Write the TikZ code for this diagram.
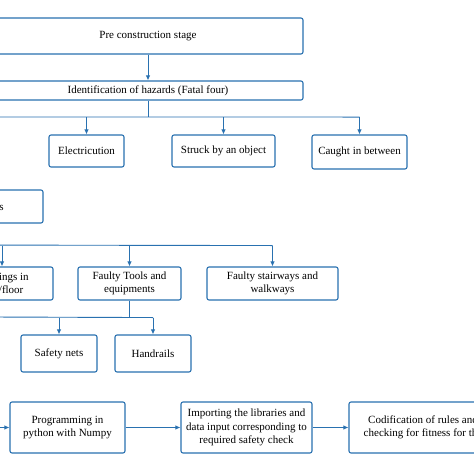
\documentclass[tikz,border=0pt]{standalone}
\usepackage{fontspec}
\setmainfont{Liberation Serif}
\usetikzlibrary{arrows.meta}
\definecolor{bl}{RGB}{41,113,176}
\tikzset{
  box/.style={draw=bl, line width=1.1pt, rounded corners=2pt, align=center, inner sep=0pt,
    font=\fontsize{11}{13.5}\selectfont, text=black},
  conn/.style={draw=bl, line width=0.9pt},
  arr/.style={conn, -{Latex[length=5pt,width=4.5pt]}}
}
\begin{document}
\begin{tikzpicture}[x=1pt,y=1pt]
\useasboundingbox (0,0) rectangle (474,-474);
\fill[white] (0,0) rectangle (474,-474);
\clip (0,0) rectangle (474,-474);
% top chain
\node[box, minimum width=310, minimum height=36] (A) at (148,-36) {Pre construction stage};
\node[box, minimum width=310, minimum height=19] (B) at (148,-90.5) {Identification of hazards (Fatal four)};
\node[box, minimum width=75, minimum height=32] (E1) at (86.5,-151) {Electricution};
\node[box, minimum width=103, minimum height=32] (E2) at (223.5,-151) {Struck by an object};
\node[box, minimum width=95, minimum height=34] (E3) at (359.5,-152) {Caught in between};
% middle
\node[box, minimum width=100, minimum height=33] (C) at (-7,-206.5) {Falls};
\node[box, minimum width=102, minimum height=33] (O) at (2,-283.5) {Openings in\\roof/floor};
\node[box, minimum width=103, minimum height=33] (FT) at (129.5,-283.5) {Faulty Tools and\\equipments};
\node[box, minimum width=131, minimum height=33] (FS) at (272.5,-283.5) {Faulty stairways and\\walkways};
\node[box, minimum width=76, minimum height=37] (SN) at (59,-353.5) {Safety nets};
\node[box, minimum width=76, minimum height=37] (HR) at (153,-353.5) {Handrails};
% bottom row
\node[box, minimum width=115, minimum height=51] (P) at (67.5,-427.5) {Programming in\\python with Numpy};
\node[box, minimum width=131, minimum height=51] (I) at (246.5,-427.5) {Importing the libraries and\\data input corresponding to\\required safety check};
\node[box, minimum width=148, minimum height=51] (K) at (423,-427.5) {Codification of rules and\\checking for fitness for the};
% free ends
\coordinate (f1) at (-10,-117);
\coordinate (f2) at (-60,-245);
\coordinate (f3) at (-10,-317);
\coordinate (f4) at (-10,-427.5);
% connectors
\draw[arr] (A.south) -- (B.north);
\draw[conn] (B.south) -- ++(0,-16.5) coordinate (j1);
\draw[conn] (f1) -- (j1 -| E3.north);
\draw[arr] (j1 -| E1.north) -- (E1.north);
\draw[arr] (j1 -| E2.north) -- (E2.north);
\draw[arr] (j1 -| E3.north) -- (E3.north);
\draw[conn] (C.south) -- ++(0,-22) coordinate (j2);
\draw[conn] (f2) -- (j2 -| FS.north);
\draw[arr] (j2 -| O.north) -- (O.north);
\draw[arr] (j2 -| FT.north) -- (FT.north);
\draw[arr] (j2 -| FS.north) -- (FS.north);
\draw[conn] (FT.south) -- ++(0,-17) coordinate (j3);
\draw[conn] (f3) -- (j3 -| HR.north);
\draw[arr] (j3 -| SN.north) -- (SN.north);
\draw[arr] (j3 -| HR.north) -- (HR.north);
\draw[arr] (f4) -- (P.west);
\draw[arr] (P.east) -- (I.west);
\draw[arr] (I.east) -- (K.west);
\end{tikzpicture}
\end{document}
